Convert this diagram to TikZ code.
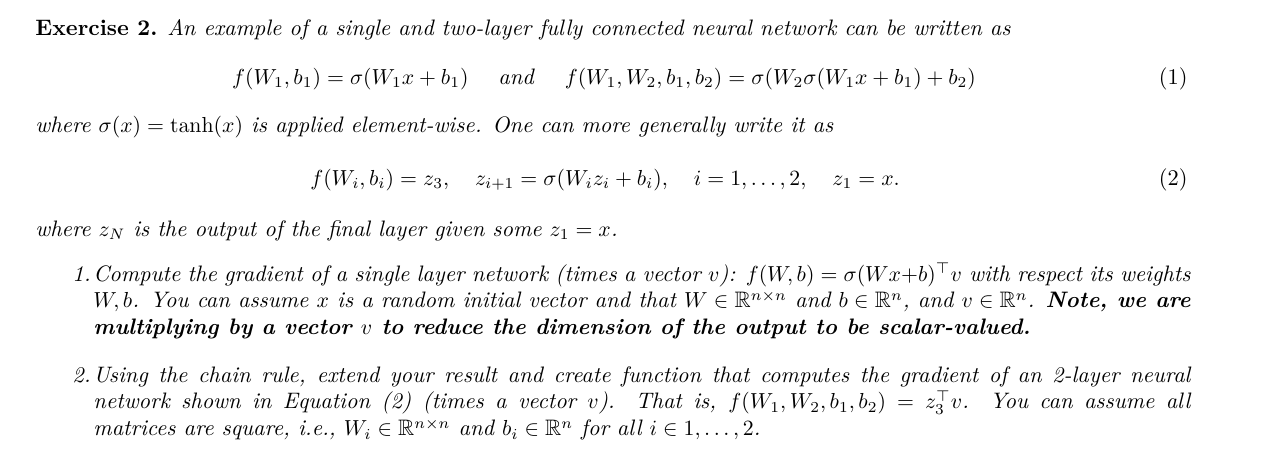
\documentclass[tikz,border=0pt]{standalone}
\usepackage{amsmath,amssymb}
\begin{document}
\begin{tikzpicture}[x=0.46pt,y=-0.46pt,font=\fontsize{10.3}{12.4}\selectfont,txt/.style={anchor=base west,inner sep=0pt},
 para/.style={anchor=base west,inner sep=0pt,text width=1097*0.46pt,align=justify}]
\useasboundingbox (0,0) rectangle (1266,464);
\node[txt] (ex) at (35,35) {\textbf{Exercise 2.} \itshape An example of a single and two-layer fully connected neural network can be written as};
\node[anchor=base,inner sep=0pt] (e1) at (604,84) {$f(W_1,b_1)=\sigma(W_1x+b_1)\quad$ \textit{and} $\quad f(W_1,W_2,b_1,b_2)=\sigma(W_2\sigma(W_1x+b_1)+b_2)$};
\node[anchor=base east,inner sep=0pt] (n1) at (1188,84) {(1)};
\node[txt] (w1) at (35,132) {\itshape where $\sigma(x)=\tanh(x)$ is applied element-wise. One can more generally write it as};
\node[anchor=base,inner sep=0pt] (e2) at (605,185) {$f(W_i,b_i)=z_3,\quad z_{i+1}=\sigma(W_iz_i+b_i),\quad i=1,\ldots,2,\quad z_1=x.$};
\node[anchor=base east,inner sep=0pt] (n2) at (1188,185) {(2)};
\node[txt] (w2) at (35,236) {\itshape where $z_N$ is the output of the final layer given some $z_1=x$.};
\node[txt] (i1) at (72,281) {\itshape 1.};
\node[para] (p1) at (93,281) {\itshape Compute the gradient of a single layer network (times a vector $v$): $f(W,b)=\sigma(Wx{+}b)^\top v$ with respect its weights\linebreak $W,b$. You can assume $x$ is a random initial vector and that $W\in\mathbb{R}^{n\times n}$ and $b\in\mathbb{R}^n$, and $v\in\mathbb{R}^n$. \textbf{Note, we are multiplying by a vector $v$ to reduce the dimension of the output to be scalar-valued.}};
\node[txt] (i2) at (72,382) {\itshape 2.};
\node[para] (p2) at (93,382) {\itshape Using the chain rule, extend your result and create function that computes the gradient of an 2-layer neural\linebreak network shown in Equation (2) (times a vector $v$). That is, $f(W_1,W_2,b_1,b_2)=z_3^\top v$. You can assume all\linebreak matrices are square, i.e., $W_i\in\mathbb{R}^{n\times n}$ and $b_i\in\mathbb{R}^n$ for all $i\in 1,\ldots,2$.};
\end{tikzpicture}
\end{document}
